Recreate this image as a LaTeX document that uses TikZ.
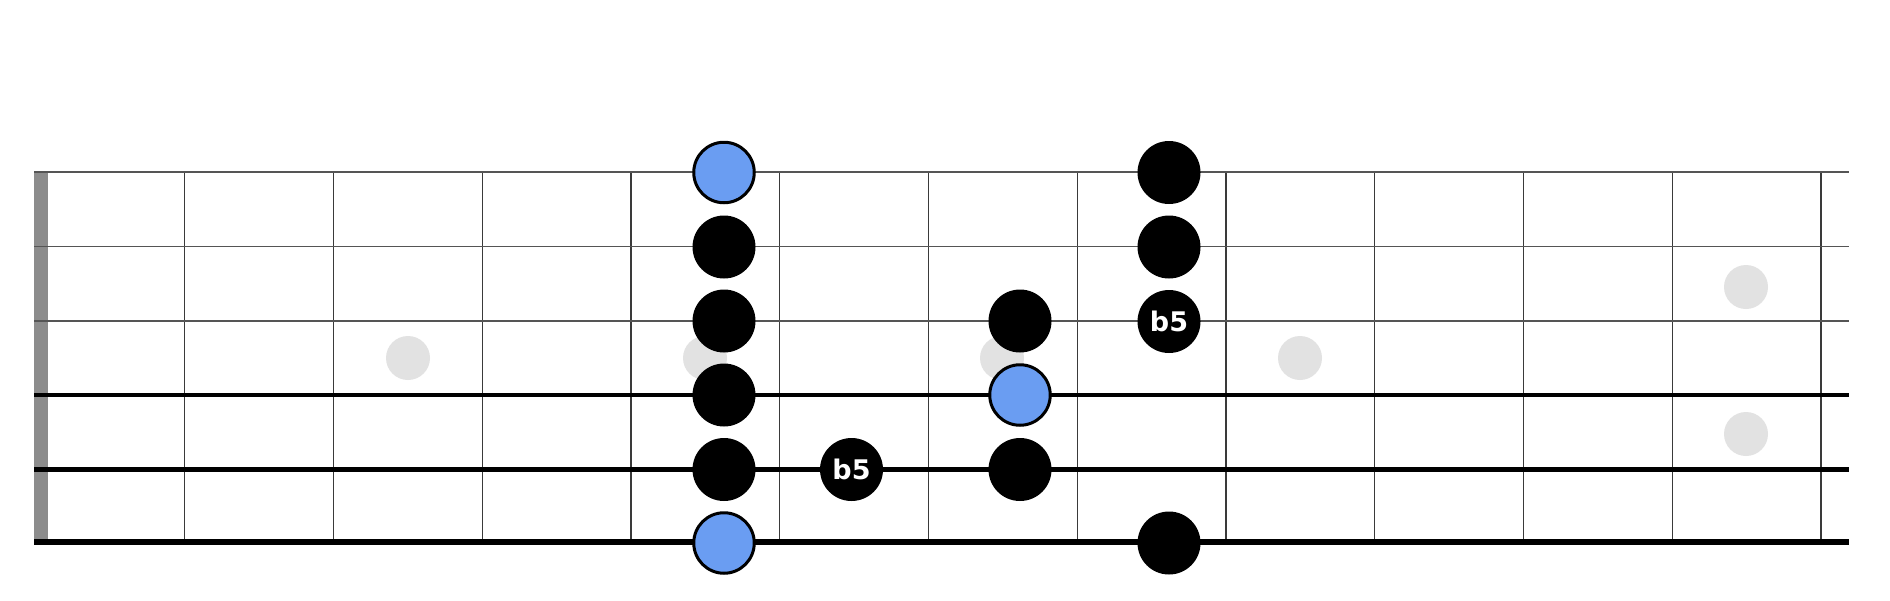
\documentclass[tikz,border=0pt]{standalone}
\usepackage{fontspec}
\newfontfamily\labelfont{DejaVu Sans}
\definecolor{stringgray}{HTML}{555555}
\definecolor{fretgray}{HTML}{3A3A3A}
\definecolor{nutgray}{HTML}{8C8C8C}
\definecolor{inlaygray}{HTML}{E2E2E2}
\definecolor{rootblue}{HTML}{6A9DF2}
\tikzset{
  thinstring/.style={draw=stringgray, line width=1.4pt},
  thickstring/.style={draw=black, line width=4.7pt},
  bassstring/.style={draw=black, line width=6.5pt},
  fretline/.style={draw=fretgray, line width=1.2pt},
  inlay/.style={circle, fill=inlaygray, minimum size=44pt, inner sep=0pt},
  note/.style={circle, fill=black, minimum size=63pt, inner sep=0pt},
  rootnote/.style={circle, fill=rootblue, draw=black, line width=3pt, minimum size=60.5pt, inner sep=0pt},
  flatnote/.style={note, text=white, font=\labelfont\bfseries\fontsize{27}{27}\selectfont}
}
\begin{document}
\begin{tikzpicture}[x=1pt,y=-1pt]
\useasboundingbox (0,0) rectangle (1890,600);
\fill[white] (0,0) rectangle (1890,600);
% nut
\fill[nutgray] (34,171) rectangle (47.5,539);
% frets
\foreach \i in {1,...,12} {
  \draw[fretline] ({36+148.75*\i},172) -- ({36+148.75*\i},542);
}
% strings
\draw[thinstring] (34,172) -- (1849,172);
\draw[thinstring] (34,246.5) -- (1849,246.5);
\draw[thinstring] (34,321) -- (1849,321);
\draw[thickstring] (34,395) -- (1849,395);
\draw[thickstring] (34,469.5) -- (1849,469.5);
\draw[bassstring] (34,541.8) -- (1849,541.8);
% inlays
\node[inlay] (i3) at (408,358) {};
\node[inlay] (i5) at (705,358) {};
\node[inlay] (i7) at (1002,358) {};
\node[inlay] (i9) at (1300,358) {};
\node[inlay] (i12a) at (1746,287) {};
\node[inlay] (i12b) at (1746,434) {};
% notes, column 1
\node[rootnote] (a1) at (724,172.5) {};
\node[note] (a2) at (724,247) {};
\node[note] (a3) at (724,321) {};
\node[note] (a4) at (724,395) {};
\node[note] (a5) at (724,469.5) {};
\node[rootnote] (a6) at (724,543) {};
% b5 on string 5
\node[flatnote] (b5) at (851.5,469.5) {b5};
% column 3
\node[note] (c3) at (1020,321) {};
\node[rootnote] (c4) at (1020,395) {};
\node[note] (c5) at (1020,469.5) {};
% column 4
\node[note] (d1) at (1169,172.5) {};
\node[note] (d2) at (1169,247) {};
\node[flatnote] (d3) at (1169,321.5) {b5};
\node[note] (d6) at (1169,543) {};
\end{tikzpicture}
\end{document}
